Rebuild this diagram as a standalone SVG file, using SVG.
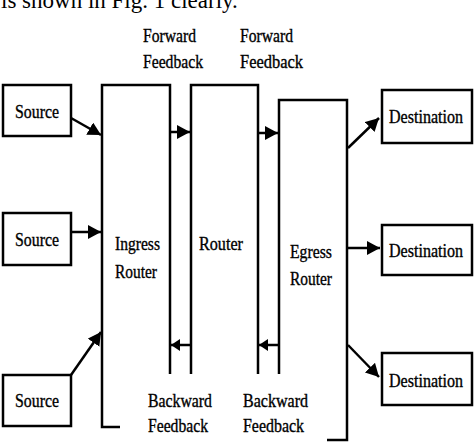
<svg xmlns="http://www.w3.org/2000/svg" width="474" height="442" viewBox="0 0 474 442">
<style>
  .box{fill:#fff;stroke:#000;stroke-width:2.5}
  .frame{fill:none;stroke:#000;stroke-width:2.5}
  .lbl{font-family:"Liberation Serif","Times New Roman",serif;font-size:18px;fill:#000;stroke:#000;stroke-width:0.35}
  .top{font-family:"Liberation Serif","Times New Roman",serif;font-size:23px;fill:#000}
  .ln{fill:none;stroke:#000;stroke-width:2.5}
</style>
<defs>
  <marker id="ah" markerUnits="userSpaceOnUse" markerWidth="14" markerHeight="16" refX="13" refY="7" orient="auto">
    <path d="M0,0 L13,7 L0,14 Z" fill="#000"/>
  </marker>
  <marker id="ahs" markerUnits="userSpaceOnUse" markerWidth="10" markerHeight="14" refX="9" refY="6" orient="auto">
    <path d="M0,0 L9,6 L0,12 Z" fill="#000"/>
  </marker>
</defs>
<text class="top" x="1" y="8">is shown in Fig. 1 clearly.</text>

<g id="source1"><rect class="box" x="3" y="85" width="68" height="51"/><text class="lbl" x="15" y="118" textLength="44" lengthAdjust="spacingAndGlyphs">Source</text></g>
<g id="source2"><rect class="box" x="3" y="213" width="68" height="52"/><text class="lbl" x="15" y="246" textLength="44" lengthAdjust="spacingAndGlyphs">Source</text></g>
<g id="source3"><rect class="box" x="3" y="375" width="68" height="51"/><text class="lbl" x="15" y="407" textLength="44" lengthAdjust="spacingAndGlyphs">Source</text></g>

<g id="ingress"><path class="frame" d="M120,427 H102 V85 H170 V374"/>
  <text class="lbl" x="115" y="250" textLength="45" lengthAdjust="spacingAndGlyphs">Ingress</text>
  <text class="lbl" x="115" y="278" textLength="42" lengthAdjust="spacingAndGlyphs">Router</text></g>
<g id="router"><path class="frame" d="M191,374 V85 H258 V374"/>
  <text class="lbl" x="199" y="250" textLength="44" lengthAdjust="spacingAndGlyphs">Router</text></g>
<g id="egress"><path class="frame" d="M327,440 H347 V100 H279 V374"/>
  <text class="lbl" x="290" y="258" textLength="42" lengthAdjust="spacingAndGlyphs">Egress</text>
  <text class="lbl" x="290" y="285" textLength="42" lengthAdjust="spacingAndGlyphs">Router</text></g>

<g id="dest1"><rect class="box" x="382" y="90" width="90" height="53"/><text class="lbl" x="389" y="123" textLength="74" lengthAdjust="spacingAndGlyphs">Destination</text></g>
<g id="dest2"><rect class="box" x="382" y="225" width="90" height="50"/><text class="lbl" x="389" y="257" textLength="74" lengthAdjust="spacingAndGlyphs">Destination</text></g>
<g id="dest3"><rect class="box" x="382" y="353" width="90" height="52"/><text class="lbl" x="389" y="387" textLength="74" lengthAdjust="spacingAndGlyphs">Destination</text></g>

<g id="fwd1"><text class="lbl" x="143" y="42" textLength="53" lengthAdjust="spacingAndGlyphs">Forward</text><text class="lbl" x="143" y="68" textLength="60" lengthAdjust="spacingAndGlyphs">Feedback</text></g>
<g id="fwd2"><text class="lbl" x="240" y="42" textLength="53" lengthAdjust="spacingAndGlyphs">Forward</text><text class="lbl" x="240" y="68" textLength="63" lengthAdjust="spacingAndGlyphs">Feedback</text></g>
<g id="bwd1"><text class="lbl" x="148" y="407" textLength="64" lengthAdjust="spacingAndGlyphs">Backward</text><text class="lbl" x="148" y="432" textLength="60" lengthAdjust="spacingAndGlyphs">Feedback</text></g>
<g id="bwd2"><text class="lbl" x="243" y="407" textLength="65" lengthAdjust="spacingAndGlyphs">Backward</text><text class="lbl" x="243" y="432" textLength="61" lengthAdjust="spacingAndGlyphs">Feedback</text></g>

<g id="connectors">
  <line class="ln" x1="71" y1="118" x2="101" y2="135" marker-end="url(#ah)"/>
  <line class="ln" x1="71" y1="232" x2="101" y2="232" marker-end="url(#ah)"/>
  <line class="ln" x1="71" y1="375" x2="101" y2="332" marker-end="url(#ah)"/>
  <line class="ln" x1="170" y1="132" x2="190" y2="132" marker-end="url(#ah)"/>
  <line class="ln" x1="258" y1="133" x2="278" y2="133" marker-end="url(#ah)"/>
  <line class="ln" x1="191" y1="345" x2="171" y2="345" marker-end="url(#ahs)"/>
  <line class="ln" x1="279" y1="345" x2="259" y2="345" marker-end="url(#ahs)"/>
  <line class="ln" x1="348" y1="148" x2="379" y2="118" marker-end="url(#ah)"/>
  <line class="ln" x1="347" y1="248" x2="380" y2="248" marker-end="url(#ah)"/>
  <line class="ln" x1="348" y1="345" x2="379" y2="377" marker-end="url(#ah)"/>
</g>
</svg>
